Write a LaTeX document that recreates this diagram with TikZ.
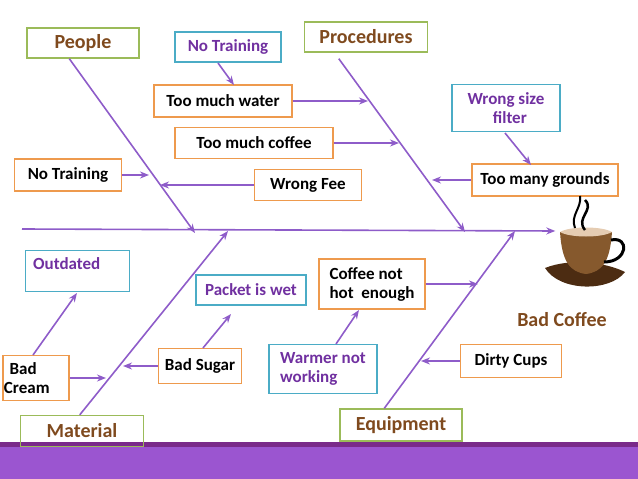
\documentclass[tikz,border=0pt]{standalone}
\usepackage{fontspec}
\setmainfont{Carlito}
\usetikzlibrary{arrows.meta}
\definecolor{pur}{HTML}{8E5CC9}
\definecolor{tpur}{HTML}{7030A0}
\definecolor{brn}{HTML}{7F4A1E}
\definecolor{org}{HTML}{EE9A4D}
\definecolor{grn}{HTML}{9BBB59}
\definecolor{cyn}{HTML}{4BACC6}
\definecolor{barp}{HTML}{9B55D0}
\definecolor{bard}{HTML}{7A2A8A}
\tikzset{
 bx/.style 2 args={draw, line width=1.4pt, minimum width=#1, minimum height=#2, inner sep=2pt, font=\bfseries\fontsize{17}{19}\selectfont},
 ob/.style={draw=org, text=black},
 gb/.style={draw=grn, text=brn, font=\bfseries\fontsize{20}{22}\selectfont},
 cb/.style={draw=cyn, text=tpur},
 ar/.style={draw=pur, line width=1.6pt, -{Stealth[length=9pt,width=7pt]}},
}
\begin{document}
\begin{tikzpicture}[x=1pt,y=-1pt]
\useasboundingbox (0,0) rectangle (638,479);
\fill[barp] (0,447) rectangle (638,479);
\fill[bard] (0,442) rectangle (638,447);
% boxes
\node[bx={112pt}{30pt}, gb] (people) at (83,43) {People};
\node[bx={106pt}{30pt}, cb] (nt1) at (228,47) {No Training};
\node[bx={123pt}{30pt}, gb] (proc) at (366,37) {Procedures};
\node[bx={138pt}{32pt}, ob] (water) at (223,101) {Too much water};
\node[bx={158pt}{31pt}, ob] (coffee) at (254,143) {Too much coffee};
\node[bx={107pt}{31pt}, ob] (fee) at (308,185) {Wrong Fee};
\node[bx={107pt}{32pt}, ob] (nt2) at (68,175) {No Training};
\node[bx={108pt}{47pt}, cb, align=center] (filter) at (506,108) {Wrong size\\\ \ filter};
\node[bx={146pt}{32pt}, ob] (grounds) at (545,180) {Too many grounds};
\node[draw=cyn, line width=1.4pt, minimum width=104pt, minimum height=41pt, anchor=north west] (outd) at (25,250) {};
\node[text=tpur, font=\bfseries\fontsize{17}{19}\selectfont, anchor=north west, inner sep=0pt] at (33,257) {Outdated};
\node[bx={110pt}{30pt}, cb] (wet) at (251,290) {Packet is wet};
\node[bx={106pt}{50pt}, ob, align=left] (hot) at (372,284) {Coffee not\\hot\ \ enough};
\node[bx={66pt}{45pt}, ob, align=left, inner sep=0pt, text width=64pt] (cream) at (36,378) {\ Bad\\Cream};
\node[bx={83pt}{35pt}, ob] (sugar) at (200,366) {Bad Sugar};
\node[bx={108pt}{49pt}, cb, align=left] (warm) at (323,369) {Warmer not\\working};
\node[bx={101pt}{33pt}, ob] (cups) at (511,361) {Dirty Cups};
\node[bx={123pt}{31pt}, gb] (mat) at (82,431) {Material};
\node[bx={122pt}{32pt}, gb] (equip) at (401,425) {Equipment};
\node[text=brn, font=\bfseries\fontsize{20}{22}\selectfont] (bad) at (562,320) {Bad Coffee};
% cup
\node[minimum size=1pt, inner sep=0pt] (cup) at (556,231) {};
\fill[brn!60!black] (545,268) .. controls (560,292) and (610,292) .. (625,272) .. controls (605,262) and (570,258) .. (545,268);
\fill[brown!70!black] (560,232) .. controls (562,262) and (570,272) .. (586,274) .. controls (602,272) and (610,262) .. (612,232) -- cycle;
\fill[brown!40] (560,232) .. controls (570,226) and (602,226) .. (612,232) .. controls (602,238) and (570,238) .. (560,232);
\draw[black, line width=3pt] (611,240) .. controls (630,236) and (628,262) .. (604,262);
\draw[black, line width=2.5pt] (585,230) .. controls (575,218) and (595,210) .. (585,200);
\draw[black, line width=2pt] (575,228) .. controls (570,215) and (582,208) .. (580,196);
% spine
\coordinate (s0) at (22,229);
\draw[ar] (s0) -- (cup);
% bones
\coordinate (pe) at (195,233);
\coordinate (pre) at (465,232);
\coordinate (me) at (228,231);
\coordinate (ee) at (515,231);
\draw[ar] (people.south west) ++(43,0) coordinate (ps) -- (pe);
\draw[ar] (proc.south west) ++(35,6) coordinate (prs) -- (pre);
\draw[ar] (mat.north west) ++(60,0) coordinate (ms) -- (me);
\draw[ar] (equip.north west) ++(45,0) coordinate (es) -- (ee);
% causes
\coordinate (a1) at (234,85);
\draw[ar] (218,63) -- (a1);
\coordinate (a2) at (368,101);
\draw[ar] (water.east) -- (a2);
\coordinate (a3) at (399,143);
\draw[ar] (coffee.east) -- (a3);
\coordinate (a4) at (160,185);
\draw[ar] (fee.west) -- (a4);
\coordinate (a5) at (149,175);
\draw[ar] (nt2.east) -- (a5);
\coordinate (a6) at (432,180);
\draw[ar] (grounds.west) -- (a6);
\coordinate (a7) at (531,165);
\draw[ar] (505,133) -- (a7);
\coordinate (a8) at (77,293);
\draw[ar] (33,355) -- (a8);
\coordinate (a9) at (106,378);
\draw[ar] (cream.east) -- (a9);
\coordinate (a10) at (123,366);
\draw[ar] (sugar.west) -- (a10);
\coordinate (a11) at (231,314);
\draw[ar] (203,348) -- (a11);
\coordinate (a12) at (478,284);
\draw[ar] (hot.east) -- (a12);
\coordinate (a13) at (359,310);
\draw[ar] (336,344) -- (a13);
\coordinate (a14) at (421,361);
\draw[ar] (cups.west) -- (a14);
\end{tikzpicture}
\end{document}
